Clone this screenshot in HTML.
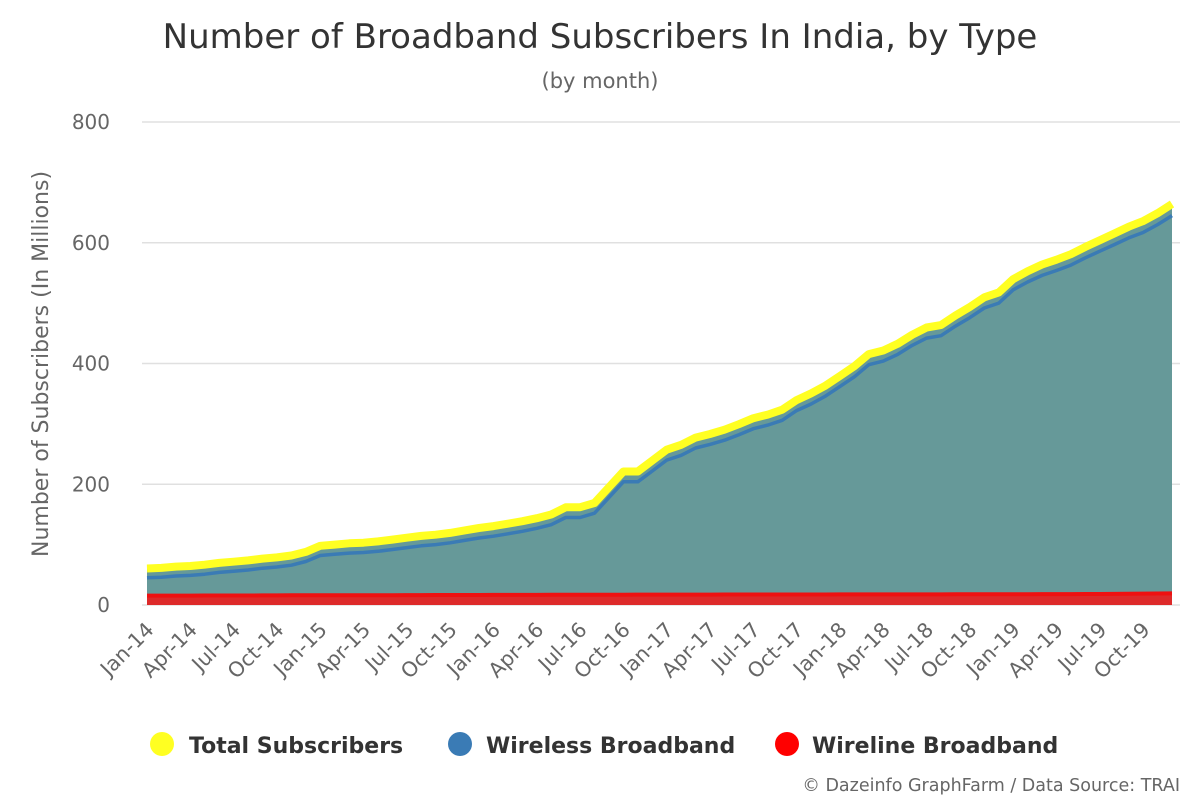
<!DOCTYPE html>
<html><head><meta charset="utf-8"><style>
body{margin:0;background:#fff;}
svg{display:block;font-family:"DejaVu Sans","Liberation Sans",sans-serif;}
</style></head><body>
<svg id="c" width="1200" height="800">
<text x="600" y="48" text-anchor="middle" font-size="34" fill="#333">Number of Broadband Subscribers In India, by Type</text>
<text x="600" y="88" text-anchor="middle" font-size="21" fill="#666">(by month)</text>
<text transform="translate(48,364) rotate(-90)" text-anchor="middle" font-size="22" fill="#666">Number of Subscribers (In Millions)</text>
<g id="grid"></g><g id="series"></g><g id="xl"></g>
<g>
<g><circle cx="162" cy="744" r="12" fill="#ffff22"/><text x="189" y="753" font-size="22" font-weight="bold" fill="#333">Total Subscribers</text></g>
<g><circle cx="460" cy="744" r="12" fill="#3a7bb5"/><text x="486" y="753" font-size="22" font-weight="bold" fill="#333">Wireless Broadband</text></g>
<g><circle cx="787" cy="744" r="12" fill="#f00"/><text x="812" y="753" font-size="22" font-weight="bold" fill="#333">Wireline Broadband</text></g>
</g>
<text x="1180" y="791" text-anchor="end" font-size="17.5" fill="#666">© Dazeinfo GraphFarm / Data Source: TRAI</text>
</svg>
<script>
const yTicks=[0,200,400,600,800];
const months=['Jan','Feb','Mar','Apr','May','Jun','Jul','Aug','Sep','Oct','Nov','Dec'];
const wireless=[45,46,48,49,51,54,56,58,61,63,66,72,
82,84,86,87,89,92,95,98,100,103,107,111,
114,118,122,127,133,145,145,152,178,204,204,222,
240,248,260,266,273,282,292,298,306,322,333,346,
362,378,398,404,415,430,442,446,462,476,492,500,
522,535,546,554,563,575,586,597,608,617,630,645];
const wireline=[15.5,15.5,15.6,15.6,15.7,15.7,15.8,15.8,15.9,15.9,16,16,
16.1,16.1,16.2,16.2,16.3,16.3,16.4,16.4,16.5,16.5,16.6,16.6,
16.7,16.7,16.8,16.8,16.9,16.9,17,17,17.1,17.1,17.2,17.2,
17.3,17.3,17.3,17.3,17.4,17.4,17.4,17.4,17.4,17.4,17.4,17.4,
17.5,17.5,17.5,17.5,17.6,17.6,17.6,17.6,17.7,17.7,17.7,17.8,
17.8,17.9,18,18,18.1,18.2,18.3,18.4,18.6,18.8,19,19.2];
const total=wireless.map((v,i)=>v+wireline[i]);
const labels=wireless.map((v,i)=>months[i%12]+'-'+(14+Math.floor(i/12)));
const NS='http://www.w3.org/2000/svg';
const x0=147,x1=1172,yb=605,yt=122;
const X=i=>x0+(x1-x0)*i/(wireless.length-1);
const Y=v=>yb-(yb-yt)*v/800;
function mk(t,a,p){const e=document.createElementNS(NS,t);for(const k in a)e.setAttribute(k,a[k]);p.appendChild(e);return e;}
const grid=document.getElementById('grid');
yTicks.forEach(t=>{
 const l=mk('line',{x1:142,x2:1180,y1:Y(t),y2:Y(t),stroke:'#e0e0e0','stroke-width':1.5},grid);
 
 
 const tx=mk('text',{x:110,y:Y(t)+7,'text-anchor':'end','font-size':20,fill:'#666'},grid);
 tx.textContent=t;
 
 
});
const s=document.getElementById('series');
const line=arr=>arr.map((v,i)=>(i?'L':'M')+X(i).toFixed(1)+' '+Y(v).toFixed(1)).join(' ');
const area=arr=>line(arr)+` L${X(arr.length-1)} ${yb} L${x0} ${yb} Z`;
const ta=mk('path',{d:area(total),fill:'#669999'},s);


const tl=mk('path',{d:line(total),fill:'none',stroke:'#ffff22','stroke-width':8,'stroke-linejoin':'round'},s);


const wl=mk('path',{d:line(wireless),fill:'none',stroke:'#3a7bb5','stroke-width':3.5,'stroke-linejoin':'round'},s);


const ra=mk('path',{d:area(wireline),fill:'#dd2a2a'},s);


const rl=mk('path',{d:line(wireline),fill:'none',stroke:'#ee1111','stroke-width':4},s);


const xl=document.getElementById('xl');
labels.forEach((lb,i)=>{
 if(i%3)return;
 const t=mk('text',{transform:`translate(${X(i)+8},${yb+26}) rotate(-45)`,'text-anchor':'end','font-size':20.5,fill:'#666'},xl);
 t.textContent=lb;
 
 
});
</script>
</body></html>
